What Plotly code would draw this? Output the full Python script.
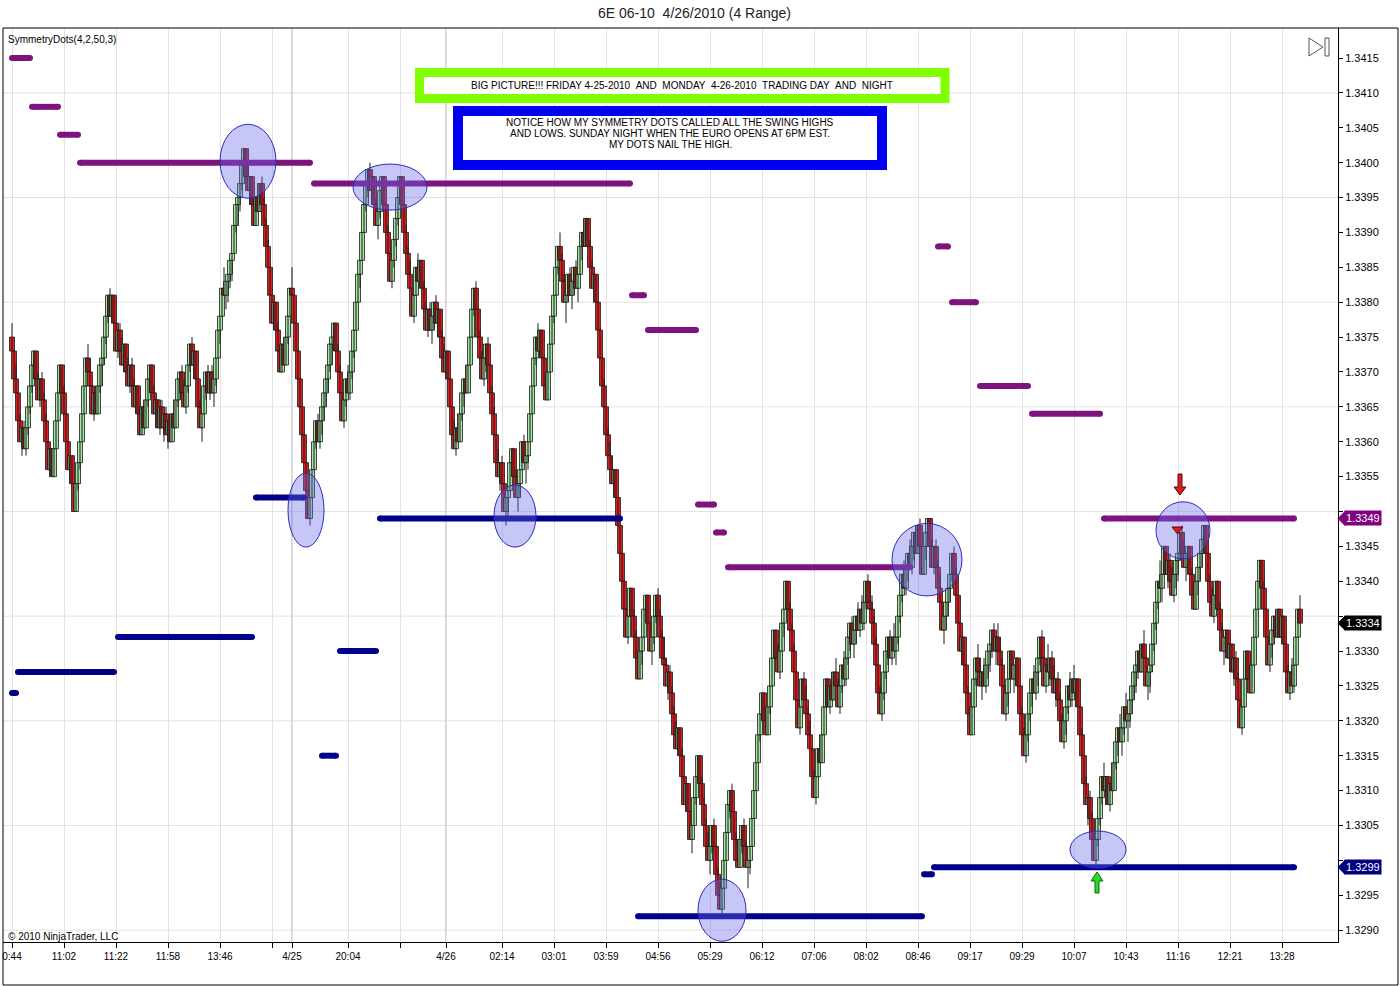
import plotly.graph_objects as go

# ---------------- data (prices in pips above 1.3290) ----------------
BASE_PRICE = 1.3290
PIP = 0.0001

open_pips = [
    85, 83, 79, 77, 73, 70, 72, 69, 72, 75,
    78, 81, 83, 79, 76, 79, 76, 73, 70, 66,
    69, 65, 69, 73, 77, 81, 77, 74, 70, 66,
    68, 64, 60, 64, 67, 70, 74, 78, 82, 80,
    78, 74, 77, 74, 78, 81, 82, 85, 88, 91,
    88, 91, 87, 83, 86, 83, 81, 84, 80, 78,
    81, 78, 75, 78, 74, 71, 75, 72, 76, 79,
    81, 77, 74, 76, 72, 75, 72, 74, 71, 73,
    70, 74, 72, 76, 79, 80, 77, 75, 78, 81,
    84, 81, 83, 79, 75, 72, 74, 78, 80, 77,
    80, 77, 79, 82, 86, 88, 92, 91, 93, 94,
    96, 97, 101, 104, 105, 107, 110, 112, 108, 106,
    108, 104, 101, 105, 103, 107, 104, 101, 98, 95,
    91, 87, 90, 86, 83, 80, 84, 81, 85, 88,
    92, 91, 87, 83, 79, 75, 71, 67, 63, 59,
    62, 66, 70, 73, 70, 73, 75, 77, 79, 81,
    84, 85, 87, 83, 80, 77, 73, 76, 79, 77,
    80, 83, 86, 90, 94, 96, 100, 104, 107, 109,
    106, 108, 104, 101, 103, 106, 108, 104, 100, 97,
    93, 96, 99, 102, 105, 108, 104, 100, 97, 94,
    92, 88, 91, 95, 93, 96, 92, 89, 86, 89,
    86, 88, 90, 87, 89, 85, 82, 80, 83, 79,
    75, 71, 69, 72, 70, 74, 77, 79, 77, 81,
    85, 89, 92, 89, 85, 82, 79, 82, 84, 81,
    77, 74, 71, 67, 65, 67, 64, 60, 62, 63,
    67, 69, 65, 62, 64, 66, 70, 67, 68, 70,
    74, 78, 82, 85, 83, 86, 82, 78, 76, 80,
    84, 88, 91, 95, 98, 96, 93, 90, 91, 94,
    91, 93, 95, 92, 94, 98, 100, 98, 102, 98,
    95, 92, 94, 90, 86, 82, 78, 75, 71, 68,
    66, 64, 66, 62, 58, 54, 50, 46, 42, 45,
    49, 45, 42, 39, 36, 40, 42, 46, 48, 44,
    40, 42, 45, 48, 45, 42, 39, 38, 35, 37,
    34, 31, 28, 26, 29, 25, 22, 18, 21, 17,
    13, 15, 19, 22, 25, 21, 18, 15, 12, 10,
    12, 15, 12, 8, 5, 3, 6, 10, 14, 18,
    20, 17, 13, 10, 9, 13, 15, 12, 9, 10,
    12, 16, 20, 24, 28, 31, 34, 30, 28, 32,
    35, 39, 43, 39, 37, 40, 44, 46, 50, 46,
    43, 40, 37, 33, 29, 32, 36, 33, 31, 28,
    26, 22, 19, 22, 26, 24, 28, 32, 36, 32,
    35, 33, 37, 35, 32, 35, 38, 36, 39, 42,
    44, 41, 43, 45, 43, 46, 44, 47, 50, 47,
    46, 44, 41, 38, 34, 31, 34, 37, 40, 42,
    39, 42, 40, 42, 45, 48, 51, 49, 52, 54,
    52, 55, 57, 54, 58, 55, 51, 55, 57, 59,
    55, 52, 55, 52, 49, 47, 43, 45, 47, 49,
    51, 54, 51, 48, 44, 40, 42, 38, 34, 31,
    28, 32, 36, 39, 37, 35, 37, 35, 38, 40,
    41, 43, 40, 42, 40, 38, 35, 31, 34, 36,
    40, 36, 38, 39, 35, 31, 28, 25, 28, 31,
    34, 36, 34, 37, 39, 42, 39, 35, 38, 37,
    39, 36, 34, 36, 33, 30, 27, 30, 32, 35,
    33, 36, 34, 36, 32, 28, 25, 21, 18, 19,
    16, 13, 10, 13, 16, 19, 22, 20, 22, 18,
    21, 20, 24, 27, 29, 27, 29, 32, 30, 31,
    33, 35, 37, 38, 40, 37, 41, 39, 35, 37,
    38, 41, 44, 47, 50, 49, 51, 55, 51, 53,
    50, 48, 51, 53, 54, 57, 54, 52, 54, 55,
    51, 48, 46, 50, 52, 54, 56, 58, 54, 50,
    47, 45, 48, 50, 46, 43, 40, 42, 43, 39,
    41, 37, 39, 36, 33, 29, 32, 36, 40, 36,
    34, 38, 42, 46, 50, 53, 49, 46, 42, 38,
    41, 43, 45, 42, 46, 42, 45, 41, 37, 34,
    37, 35, 38, 42, 46,
]

high_pips = [
    87, 83, 81, 77, 74, 72, 73, 72, 75, 78,
    81, 83, 83, 80, 79, 80, 77, 74, 70, 69,
    69, 69, 73, 77, 81, 81, 78, 74, 70, 68,
    68, 64, 64, 67, 70, 74, 78, 82, 84, 82,
    78, 77, 78, 78, 81, 82, 85, 88, 91, 92,
    91, 91, 87, 86, 87, 85, 84, 84, 82, 81,
    82, 79, 78, 78, 75, 75, 76, 76, 79, 81,
    81, 78, 76, 76, 75, 76, 74, 75, 73, 74,
    74, 76, 76, 79, 80, 81, 79, 78, 81, 84,
    85, 83, 83, 79, 76, 74, 78, 80, 81, 80,
    81, 79, 82, 86, 88, 92, 95, 93, 94, 96,
    97, 101, 104, 105, 107, 110, 112, 112, 110, 108,
    108, 105, 105, 107, 107, 108, 105, 102, 99, 95,
    91, 90, 90, 87, 84, 84, 85, 85, 88, 92,
    95, 91, 87, 83, 79, 75, 71, 67, 63, 62,
    66, 70, 73, 74, 73, 75, 77, 79, 81, 84,
    85, 87, 87, 84, 81, 77, 76, 79, 81, 80,
    83, 86, 90, 94, 96, 100, 104, 107, 109, 110,
    108, 108, 105, 103, 106, 108, 108, 104, 101, 97,
    96, 99, 102, 105, 108, 108, 104, 101, 98, 96,
    92, 91, 95, 97, 96, 96, 93, 90, 89, 90,
    88, 90, 91, 89, 89, 86, 84, 83, 83, 79,
    75, 73, 72, 74, 74, 77, 79, 81, 81, 85,
    89, 92, 93, 89, 86, 83, 82, 84, 85, 81,
    78, 75, 71, 69, 67, 68, 64, 62, 63, 67,
    69, 69, 66, 64, 66, 70, 71, 68, 70, 74,
    78, 82, 85, 87, 86, 86, 82, 80, 80, 84,
    88, 91, 95, 98, 100, 97, 94, 91, 94, 95,
    93, 95, 96, 94, 98, 100, 102, 102, 102, 99,
    96, 94, 94, 90, 86, 82, 79, 75, 72, 70,
    68, 66, 66, 62, 58, 54, 50, 46, 45, 49,
    49, 46, 43, 40, 40, 42, 46, 48, 48, 44,
    42, 45, 48, 49, 46, 43, 42, 39, 37, 38,
    35, 32, 30, 29, 29, 26, 22, 21, 21, 17,
    15, 19, 22, 25, 25, 22, 19, 16, 14, 12,
    15, 16, 12, 9, 7, 6, 10, 14, 18, 20,
    21, 17, 14, 13, 13, 15, 16, 13, 10, 12,
    16, 20, 24, 28, 31, 34, 34, 32, 32, 35,
    39, 43, 43, 41, 40, 44, 46, 50, 50, 47,
    44, 41, 37, 33, 32, 36, 37, 35, 32, 30,
    26, 23, 22, 26, 28, 28, 32, 36, 36, 35,
    37, 37, 39, 36, 35, 38, 40, 39, 42, 44,
    45, 43, 45, 47, 46, 48, 47, 50, 51, 50,
    48, 45, 42, 38, 35, 34, 37, 40, 42, 43,
    42, 44, 42, 45, 48, 51, 53, 52, 54, 56,
    55, 57, 58, 58, 59, 55, 55, 57, 59, 59,
    56, 55, 56, 53, 51, 47, 45, 47, 49, 51,
    54, 55, 52, 48, 44, 42, 42, 38, 35, 32,
    32, 36, 39, 41, 39, 37, 39, 38, 40, 41,
    43, 44, 42, 44, 42, 39, 35, 34, 36, 40,
    40, 38, 39, 39, 35, 32, 29, 28, 31, 34,
    36, 38, 37, 39, 42, 43, 39, 38, 41, 39,
    40, 38, 36, 37, 34, 31, 30, 32, 35, 37,
    36, 38, 36, 36, 32, 29, 25, 22, 19, 20,
    17, 14, 13, 16, 19, 22, 24, 22, 22, 21,
    24, 24, 27, 29, 31, 29, 32, 34, 31, 33,
    35, 37, 38, 40, 41, 41, 43, 39, 37, 38,
    41, 44, 47, 50, 53, 51, 55, 55, 53, 54,
    52, 51, 53, 54, 57, 58, 56, 54, 55, 55,
    52, 50, 50, 52, 54, 56, 58, 58, 54, 51,
    49, 48, 50, 50, 47, 44, 42, 43, 43, 41,
    41, 39, 40, 37, 33, 32, 36, 40, 40, 38,
    38, 42, 46, 50, 53, 53, 50, 46, 42, 41,
    43, 45, 46, 46, 46, 45, 45, 41, 38, 37,
    39, 38, 42, 46, 48,
]

low_pips = [
    83, 79, 77, 73, 70, 68, 69, 68, 71, 74,
    77, 79, 79, 76, 75, 76, 73, 70, 66, 65,
    65, 65, 69, 73, 77, 77, 74, 70, 66, 64,
    64, 60, 60, 63, 66, 70, 74, 78, 80, 78,
    74, 73, 74, 74, 77, 78, 81, 84, 87, 88,
    87, 87, 83, 82, 83, 81, 80, 80, 78, 77,
    78, 75, 74, 74, 71, 71, 72, 72, 75, 77,
    77, 74, 72, 72, 71, 72, 70, 71, 69, 70,
    70, 72, 72, 75, 76, 77, 75, 74, 77, 80,
    81, 79, 79, 75, 72, 70, 74, 76, 77, 76,
    77, 75, 78, 82, 84, 88, 91, 89, 90, 92,
    93, 97, 100, 101, 103, 106, 108, 108, 106, 104,
    104, 101, 101, 103, 103, 104, 101, 98, 95, 91,
    87, 86, 86, 83, 80, 80, 81, 81, 84, 88,
    91, 87, 83, 79, 75, 71, 67, 63, 59, 58,
    62, 66, 69, 70, 69, 71, 73, 75, 77, 80,
    81, 83, 83, 80, 77, 73, 72, 75, 77, 76,
    79, 82, 86, 90, 92, 96, 100, 103, 105, 106,
    104, 104, 101, 99, 102, 104, 104, 100, 97, 93,
    92, 95, 98, 101, 104, 104, 100, 97, 94, 92,
    88, 87, 91, 93, 92, 92, 89, 86, 85, 86,
    84, 86, 87, 85, 85, 82, 80, 79, 79, 75,
    71, 69, 68, 70, 70, 73, 75, 77, 77, 81,
    85, 88, 89, 85, 82, 79, 78, 80, 81, 77,
    74, 71, 67, 65, 63, 64, 60, 58, 59, 63,
    65, 65, 62, 60, 62, 66, 67, 64, 66, 70,
    74, 78, 81, 83, 82, 82, 78, 76, 76, 80,
    84, 87, 91, 94, 96, 93, 90, 87, 90, 91,
    89, 91, 92, 90, 94, 96, 98, 98, 98, 95,
    92, 90, 90, 86, 82, 78, 75, 71, 68, 66,
    64, 62, 62, 58, 54, 50, 46, 42, 41, 45,
    45, 42, 39, 36, 36, 38, 42, 44, 44, 40,
    38, 41, 44, 45, 42, 39, 38, 35, 33, 34,
    31, 28, 26, 25, 25, 22, 18, 17, 17, 13,
    11, 15, 18, 21, 21, 18, 15, 12, 10, 8,
    11, 12, 8, 5, 3, 2, 6, 10, 14, 16,
    17, 13, 10, 9, 9, 11, 12, 9, 6, 8,
    12, 16, 20, 24, 27, 30, 30, 28, 28, 31,
    35, 39, 39, 37, 36, 40, 42, 46, 46, 43,
    40, 37, 33, 29, 28, 32, 33, 31, 28, 26,
    22, 19, 18, 22, 24, 24, 28, 32, 32, 31,
    33, 33, 35, 32, 31, 34, 36, 35, 38, 40,
    41, 39, 41, 43, 42, 44, 43, 46, 47, 46,
    44, 41, 38, 34, 31, 30, 33, 36, 38, 39,
    38, 40, 38, 41, 44, 47, 49, 48, 50, 52,
    51, 53, 54, 54, 55, 51, 51, 53, 55, 55,
    52, 51, 52, 49, 47, 43, 41, 43, 45, 47,
    50, 51, 48, 44, 40, 38, 38, 34, 31, 28,
    28, 32, 35, 37, 35, 33, 35, 34, 36, 37,
    39, 40, 38, 40, 38, 35, 31, 30, 32, 36,
    36, 34, 35, 35, 31, 28, 25, 24, 27, 30,
    32, 34, 33, 35, 38, 39, 35, 34, 37, 35,
    36, 34, 32, 33, 30, 27, 26, 28, 31, 33,
    32, 34, 32, 32, 28, 25, 21, 18, 15, 16,
    13, 10, 9, 12, 15, 18, 20, 18, 18, 17,
    20, 20, 23, 25, 27, 25, 28, 30, 27, 29,
    31, 33, 34, 36, 37, 37, 39, 35, 33, 34,
    37, 40, 43, 46, 49, 47, 51, 51, 49, 50,
    48, 47, 49, 50, 53, 54, 52, 50, 51, 51,
    48, 46, 46, 48, 50, 52, 54, 54, 50, 47,
    45, 44, 46, 46, 43, 40, 38, 39, 39, 37,
    37, 35, 36, 33, 29, 28, 32, 36, 36, 34,
    34, 38, 42, 46, 49, 49, 46, 42, 38, 37,
    39, 41, 42, 42, 42, 41, 41, 37, 34, 33,
    35, 34, 38, 42, 44,
]

close_pips = [
    83, 79, 77, 73, 70, 72, 69, 72, 75, 78,
    81, 83, 79, 76, 79, 76, 73, 70, 66, 69,
    65, 69, 73, 77, 81, 77, 74, 70, 66, 68,
    64, 60, 64, 67, 70, 74, 78, 82, 80, 78,
    74, 77, 74, 78, 81, 82, 85, 88, 91, 88,
    91, 87, 83, 86, 83, 81, 84, 80, 78, 81,
    78, 75, 78, 74, 71, 75, 72, 76, 79, 81,
    77, 74, 76, 72, 75, 72, 74, 71, 73, 70,
    74, 72, 76, 79, 80, 77, 75, 78, 81, 84,
    81, 83, 79, 75, 72, 74, 78, 80, 77, 80,
    77, 79, 82, 86, 88, 92, 91, 93, 94, 96,
    97, 101, 104, 105, 107, 110, 112, 108, 106, 108,
    104, 101, 105, 103, 107, 104, 101, 98, 95, 91,
    87, 90, 86, 83, 80, 84, 81, 85, 88, 92,
    91, 87, 83, 79, 75, 71, 67, 63, 59, 62,
    66, 70, 73, 70, 73, 75, 77, 79, 81, 84,
    85, 87, 83, 80, 77, 73, 76, 79, 77, 80,
    83, 86, 90, 94, 96, 100, 104, 107, 109, 106,
    108, 104, 101, 103, 106, 108, 104, 100, 97, 93,
    96, 99, 102, 105, 108, 104, 100, 97, 94, 92,
    88, 91, 95, 93, 96, 92, 89, 86, 89, 86,
    88, 90, 87, 89, 85, 82, 80, 83, 79, 75,
    71, 69, 72, 70, 74, 77, 79, 77, 81, 85,
    89, 92, 89, 85, 82, 79, 82, 84, 81, 77,
    74, 71, 67, 65, 67, 64, 60, 62, 63, 67,
    69, 65, 62, 64, 66, 70, 67, 68, 70, 74,
    78, 82, 85, 83, 86, 82, 78, 76, 80, 84,
    88, 91, 95, 98, 96, 93, 90, 91, 94, 91,
    93, 95, 92, 94, 98, 100, 98, 102, 98, 95,
    92, 94, 90, 86, 82, 78, 75, 71, 68, 66,
    64, 66, 62, 58, 54, 50, 46, 42, 45, 49,
    45, 42, 39, 36, 40, 42, 46, 48, 44, 40,
    42, 45, 48, 45, 42, 39, 38, 35, 37, 34,
    31, 28, 26, 29, 25, 22, 18, 21, 17, 13,
    15, 19, 22, 25, 21, 18, 15, 12, 10, 12,
    15, 12, 8, 5, 3, 6, 10, 14, 18, 20,
    17, 13, 10, 9, 13, 15, 12, 9, 10, 12,
    16, 20, 24, 28, 31, 34, 30, 28, 32, 35,
    39, 43, 39, 37, 40, 44, 46, 50, 46, 43,
    40, 37, 33, 29, 32, 36, 33, 31, 28, 26,
    22, 19, 22, 26, 24, 28, 32, 36, 32, 35,
    33, 37, 35, 32, 35, 38, 36, 39, 42, 44,
    41, 43, 45, 43, 46, 44, 47, 50, 47, 46,
    44, 41, 38, 34, 31, 34, 37, 40, 42, 39,
    42, 40, 42, 45, 48, 51, 49, 52, 54, 52,
    55, 57, 54, 58, 55, 51, 55, 57, 59, 55,
    52, 55, 52, 49, 47, 43, 45, 47, 49, 51,
    54, 51, 48, 44, 40, 42, 38, 34, 31, 28,
    32, 36, 39, 37, 35, 37, 35, 38, 40, 41,
    43, 40, 42, 40, 38, 35, 31, 34, 36, 40,
    36, 38, 39, 35, 31, 28, 25, 28, 31, 34,
    36, 34, 37, 39, 42, 39, 35, 38, 37, 39,
    36, 34, 36, 33, 30, 27, 30, 32, 35, 33,
    36, 34, 36, 32, 28, 25, 21, 18, 19, 16,
    13, 10, 13, 16, 19, 22, 20, 22, 18, 21,
    20, 24, 27, 29, 27, 29, 32, 30, 31, 33,
    35, 37, 38, 40, 37, 41, 39, 35, 37, 38,
    41, 44, 47, 50, 49, 51, 55, 51, 53, 50,
    48, 51, 53, 54, 57, 54, 52, 54, 55, 51,
    48, 46, 50, 52, 54, 56, 58, 54, 50, 47,
    45, 48, 50, 46, 43, 40, 42, 43, 39, 41,
    37, 39, 36, 33, 29, 32, 36, 40, 36, 34,
    38, 42, 46, 50, 53, 49, 46, 42, 38, 41,
    43, 45, 42, 46, 42, 45, 41, 37, 34, 37,
    35, 38, 42, 46, 44,
]

# time axis (bar index positions of the labels)
tick_positions = [0, 26, 52, 78, 104, 130, 140, 168, 194, 217, 245, 271, 297,
                  323, 349, 375, 401, 427, 453, 479, 505, 531, 557, 583, 609, 635]
tick_labels = ["0:44", "11:02", "11:22", "11:58", "13:46", "", "4/25", "20:04", "",
               "4/26", "02:14", "03:01", "03:59", "04:56", "05:29", "06:12", "07:06",
               "08:02", "08:46", "09:17", "09:29", "10:07", "10:43", "11:16", "12:21", "13:28"]
date_break_positions = [140, 217]

price_ticks = [1.3290, 1.3295, 1.3300, 1.3305, 1.3310, 1.3315, 1.3320, 1.3325, 1.3330,
               1.3335, 1.3340, 1.3345, 1.3350, 1.3355, 1.3360, 1.3365, 1.3370, 1.3375,
               1.3380, 1.3385, 1.3390, 1.3395, 1.3400, 1.3405, 1.3410, 1.3415]
# axis labels that sit underneath the last-value tags on the price scale
hidden_price_labels = [1.3300, 1.3335, 1.3350]
grid_levels = [1.3290, 1.3305, 1.3320, 1.3335, 1.3350, 1.3365, 1.3380, 1.3395, 1.3410]

# SymmetryDots indicator segments (bar index start/end, price level)
purple_start = [0, 10, 24, 34, 151, 310, 318, 343, 352, 358, 463, 470, 484, 510, 546]
purple_end = [9, 23, 33, 149, 309, 316, 342, 351, 356, 449, 468, 482, 508, 544, 641]
purple_level = [1.3415, 1.3408, 1.3404, 1.3400, 1.3397, 1.3381, 1.3376, 1.3351, 1.3347,
                1.3342, 1.3388, 1.3380, 1.3368, 1.3364, 1.3349]
blue_start = [0, 3, 53, 122, 155, 164, 184, 313, 456, 461]
blue_end = [2, 51, 120, 146, 162, 182, 304, 455, 460, 641]
blue_level = [1.3324, 1.3327, 1.3332, 1.3352, 1.3315, 1.3330, 1.3349, 1.3292, 1.3298, 1.3299]

# highlighted swing areas (bar index range, price range)
ellipse_x0 = [104, 170.5, 138, 241, 343, 440, 572, 529]
ellipse_x1 = [132, 207.5, 156, 262, 367, 475, 599, 557]
ellipse_y0 = [1.33949, 1.33932, 1.33449, 1.33449, 1.32884, 1.33379, 1.33432, 1.32989]
ellipse_y1 = [1.34055, 1.33998, 1.33555, 1.33538, 1.32973, 1.33483, 1.33514, 1.33042]

tag_levels = [1.3349, 1.3334, 1.3299]
tag_colors = ["#800080", "#000000", "#000080"]

# ---------------- styling ----------------
FONT = "Arial, Liberation Sans, sans-serif"
UP = "#A4E8A4"
DOWN = "#DC1E1E"
PURPLE = "#7E137E"
NAVY = "#00008A"
W, H = 1400, 986
PL, PR, PT, PB = 3, 1338, 28, 942
Y_MIN, Y_MAX = 1.32883, 1.34193


def to_price(p):
    return round(BASE_PRICE + p * PIP, 5)


opens = [to_price(p) for p in open_pips]
highs = [to_price(p) for p in high_pips]
lows = [to_price(p) for p in low_pips]
closes = [to_price(p) for p in close_pips]
n = len(closes)
assert len(opens) == n and len(highs) == n and len(lows) == n, (len(opens), len(highs), len(lows), n)
bars = list(range(n))


def px(x):
    return (x - PL) / (PR - PL)


def py(y):
    return (PB - y) / (PB - PT)


def pix_path(points):
    return "M " + " L ".join(f"{px(x):.5f},{py(y):.5f}" for x, y in points) + " Z"


fig = go.Figure()

# wicks
wx, wy = [], []
for i in bars:
    wx += [i, i, None]
    wy += [lows[i], highs[i], None]
fig.add_trace(go.Scatter(x=wx, y=wy, mode="lines", line=dict(color="#1A1A1A", width=1),
                         hoverinfo="skip", showlegend=False))

# bodies
body_base = [min(o, c) for o, c in zip(opens, closes)]
body_len = [abs(c - o) for o, c in zip(opens, closes)]
body_col = [UP if c > o else DOWN for o, c in zip(opens, closes)]
fig.add_trace(go.Bar(x=bars, y=body_len, base=body_base, width=2.5,
                     marker=dict(color=body_col, line=dict(color="#1A1A1A", width=0.8)),
                     hoverinfo="skip", showlegend=False))


def seg_xy(starts, ends, levels):
    xs, ys = [], []
    for s, e, lv in zip(starts, ends, levels):
        xs += [s, e, None]
        ys += [lv, lv, None]
    return xs, ys


for st, en, lv, col in [(purple_start, purple_end, purple_level, PURPLE),
                        (blue_start, blue_end, blue_level, NAVY)]:
    xs, ys = seg_xy(st, en, lv)
    fig.add_trace(go.Scatter(x=xs, y=ys, mode="lines+markers",
                             line=dict(color=col, width=6),
                             marker=dict(color=col, size=6),
                             hoverinfo="skip", showlegend=False))

shapes = []
# horizontal grid
for lv in grid_levels:
    shapes.append(dict(type="line", xref="paper", yref="y", x0=0, x1=1, y0=lv, y1=lv,
                       line=dict(color="#E2E2E2", width=1), layer="below"))
# date separators
for d in date_break_positions:
    shapes.append(dict(type="line", xref="x", yref="paper", x0=d, x1=d, y0=0, y1=1,
                       line=dict(color="#A8A8A8", width=1), layer="below"))
# ellipses
for x0, x1, y0, y1 in zip(ellipse_x0, ellipse_x1, ellipse_y0, ellipse_y1):
    shapes.append(dict(type="circle", xref="x", yref="y", x0=x0, x1=x1, y0=y0, y1=y1,
                       fillcolor="rgba(105,105,235,0.38)",
                       line=dict(color="#2B2BC0", width=1), layer="above"))
# text boxes
shapes.append(dict(type="rect", xref="paper", yref="paper", x0=px(419.5), x1=px(945),
                   y0=py(98.5), y1=py(72.5), fillcolor="white",
                   line=dict(color="#80FF00", width=9)))
shapes.append(dict(type="rect", xref="paper", yref="paper", x0=px(458), x1=px(882),
                   y0=py(165), y1=py(111), fillcolor="white",
                   line=dict(color="#0000F0", width=10)))
# arrows
shapes.append(dict(type="path", xref="paper", yref="paper",
                   path=pix_path([(1178, 474), (1182, 474), (1182, 487), (1186, 487),
                                  (1180, 495), (1174, 487), (1178, 487)]),
                   fillcolor="#D42020", line=dict(color="#6A0000", width=1)))
shapes.append(dict(type="path", xref="paper", yref="paper",
                   path=pix_path([(1172, 527), (1183, 527), (1177.5, 534)]),
                   fillcolor="#D42020", line=dict(color="#6A0000", width=1)))
shapes.append(dict(type="path", xref="paper", yref="paper",
                   path=pix_path([(1097, 872), (1103, 881), (1099, 881), (1099, 893),
                                  (1095, 893), (1095, 881), (1091, 881)]),
                   fillcolor="#22DD22", line=dict(color="#116611", width=1)))
# play icon
shapes.append(dict(type="path", xref="paper", yref="paper",
                   path=pix_path([(1309, 38), (1323, 47), (1309, 56)]),
                   fillcolor="rgba(0,0,0,0)", line=dict(color="#555555", width=1)))
shapes.append(dict(type="rect", xref="paper", yref="paper", x0=px(1325), x1=px(1329),
                   y0=py(56), y1=py(38), line=dict(color="#555555", width=1)))
# price tag pointers
dh = 0.0001
for lv, col in zip(tag_levels, tag_colors):
    shapes.append(dict(type="path", xref="paper", yref="y",
                       path=f"M {px(1338):.5f},{lv} L {px(1345):.5f},{lv + dh} L {px(1345):.5f},{lv - dh} Z",
                       fillcolor=col, line=dict(color=col, width=1)))
# outer frame
shapes.append(dict(type="rect", xref="paper", yref="paper", x0=0, x1=px(1398),
                   y0=py(985), y1=1, line=dict(color="#000000", width=1)))

annotations = [
    dict(text="6E 06-10\u00a0\u00a04/26/2010 (4 Range)", xref="paper", yref="paper",
         x=px(695), y=py(13), showarrow=False, xanchor="center", yanchor="middle",
         font=dict(family=FONT, size=14, color="#222222")),
    dict(text="SymmetryDots(4,2,50,3)", xref="paper", yref="paper", x=px(6), y=py(39),
         showarrow=False, xanchor="left", yanchor="middle",
         font=dict(family=FONT, size=10, color="#000000")),
    dict(text="\u00a9 2010 NinjaTrader, LLC", xref="paper", yref="paper", x=px(6), y=py(936),
         showarrow=False, xanchor="left", yanchor="middle",
         font=dict(family=FONT, size=10, color="#000000")),
    dict(text="BIG PICTURE!!! FRIDAY 4-25-2010 \u00a0AND \u00a0MONDAY \u00a04-26-2010 \u00a0TRADING DAY \u00a0AND \u00a0NIGHT",
         xref="paper", yref="paper", x=px(682), y=py(85.5), showarrow=False,
         xanchor="center", yanchor="middle", font=dict(family=FONT, size=10, color="#000000")),
]
blue_lines = ["NOTICE HOW MY SYMMETRY DOTS CALLED ALL THE SWING HIGHS",
              "AND LOWS. SUNDAY NIGHT WHEN THE EURO OPENS AT 6PM EST.",
              "MY DOTS NAIL THE HIGH."]
for k, t in enumerate(blue_lines):
    annotations.append(dict(text=t, xref="paper", yref="paper", x=px(670), y=py(122 + 11.5 * k),
                            showarrow=False, xanchor="center", yanchor="middle",
                            font=dict(family=FONT, size=10, color="#000000")))
for lv, col in zip(tag_levels, tag_colors):
    annotations.append(dict(text=f"{lv:.4f}", xref="paper", yref="y", x=px(1344), y=lv,
                            showarrow=False, xanchor="left", yanchor="middle",
                            bgcolor=col, borderpad=1,
                            font=dict(family=FONT, size=11, color="#FFFFFF")))

price_text = ["" if any(abs(v - h) < 1e-9 for h in hidden_price_labels) else f"{v:.4f}"
              for v in price_ticks]

fig.update_layout(
    template="none",
    width=W, height=H,
    margin=dict(l=PL, r=W - PR, t=PT, b=H - PB, pad=0),
    paper_bgcolor="white", plot_bgcolor="white",
    showlegend=False, hovermode=False,
    font=dict(family=FONT, size=10, color="#000000"),
    shapes=shapes, annotations=annotations,
    xaxis=dict(range=[-4.5, 663], tickmode="array", tickvals=tick_positions,
               ticktext=tick_labels, ticks="outside", ticklen=5, tickcolor="#000000",
               tickwidth=1, showline=True, linecolor="#000000", linewidth=1, mirror=False,
               showgrid=True, gridcolor="#E2E2E2", gridwidth=1, zeroline=False,
               tickfont=dict(family=FONT, size=10, color="#000000"), automargin=False),
    yaxis=dict(range=[Y_MIN, Y_MAX], side="right", tickmode="array", tickvals=price_ticks,
               ticktext=price_text, ticks="outside", ticklen=4,
               tickcolor="#000000", tickwidth=1, showline=True, linecolor="#000000",
               linewidth=1, showgrid=False, zeroline=False,
               tickfont=dict(family=FONT, size=11, color="#000000"), automargin=False),
)

fig.write_html("out.html")
